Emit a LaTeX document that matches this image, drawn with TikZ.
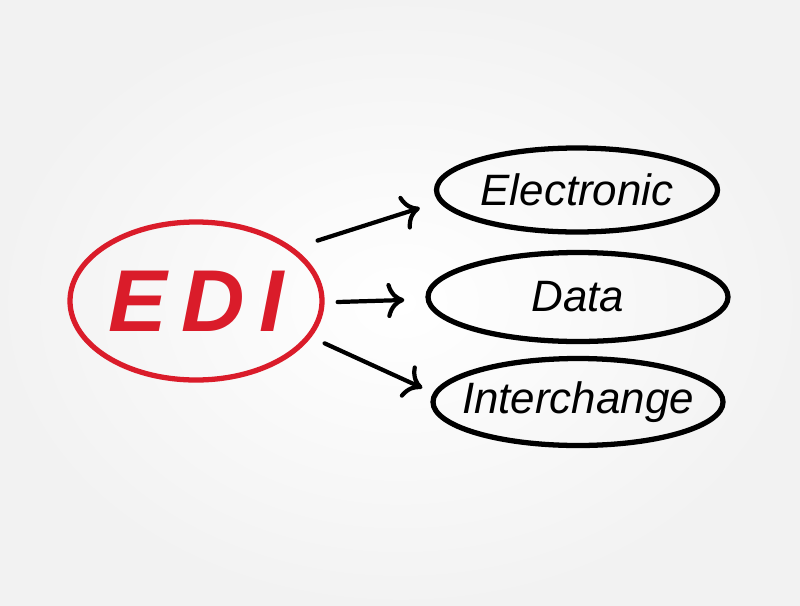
\documentclass[tikz,border=0pt]{standalone}
\usepackage{fontspec}
\setmainfont{Liberation Sans}
\usetikzlibrary{arrows.meta,shapes.geometric}
\definecolor{markred}{RGB}{218,28,42}
\newcommand{\nowidth}[1]{\makebox[0pt]{#1}}
\tikzset{
	bubble/.style={ellipse, draw=black, line width=3pt, inner sep=0pt},
	redbubble/.style={ellipse, draw=markred, line width=3pt, inner sep=0pt},
	word/.style={font=\fontsize{25}{28}\selectfont\itshape},
	arr/.style={line width=2.4pt, line cap=round, -{To[length=10pt,width=20pt,line width=2.4pt]}}
}

\begin{document}
\begin{tikzpicture}[x=0.02cm, y=-0.02cm]
			%%%%% START %%%%%
			
			\useasboundingbox (0, 0) rectangle (800, 605);
			\shade[inner color=white, outer color=black!5] (0, 0) rectangle (800, 605);
			
			\node[redbubble, minimum width=252*0.02cm, minimum height=158*0.02cm, text=markred,
				font=\fontsize{50}{54}\selectfont\bfseries\itshape] (edi) at (196, 301) {\nowidth{E\,D\,I}};
			
			\node[bubble, word, minimum width=281*0.02cm, minimum height=84*0.02cm] (el) at (577, 190) {\nowidth{Electronic}};
			\node[bubble, word, minimum width=300*0.02cm, minimum height=89*0.02cm] (da) at (578, 297) {\nowidth{Data}};
			\node[bubble, word, minimum width=290*0.02cm, minimum height=87*0.02cm] (in) at (578, 402) {\nowidth{Interchange}};
			
			\draw[arr] ([shift={(23,-8)}]edi.28) -- ([shift={(-14,18)}]el.west);
			\draw[arr] ([shift={(13,1)}]edi.east) -- ([shift={(-21,3)}]da.west);
			\draw[arr] ([shift={(25,-6)}]edi.-25) -- ([shift={(-8,-14)}]in.west);
			
			%%%%% END %%%%%
\end{tikzpicture}
\end{document}
